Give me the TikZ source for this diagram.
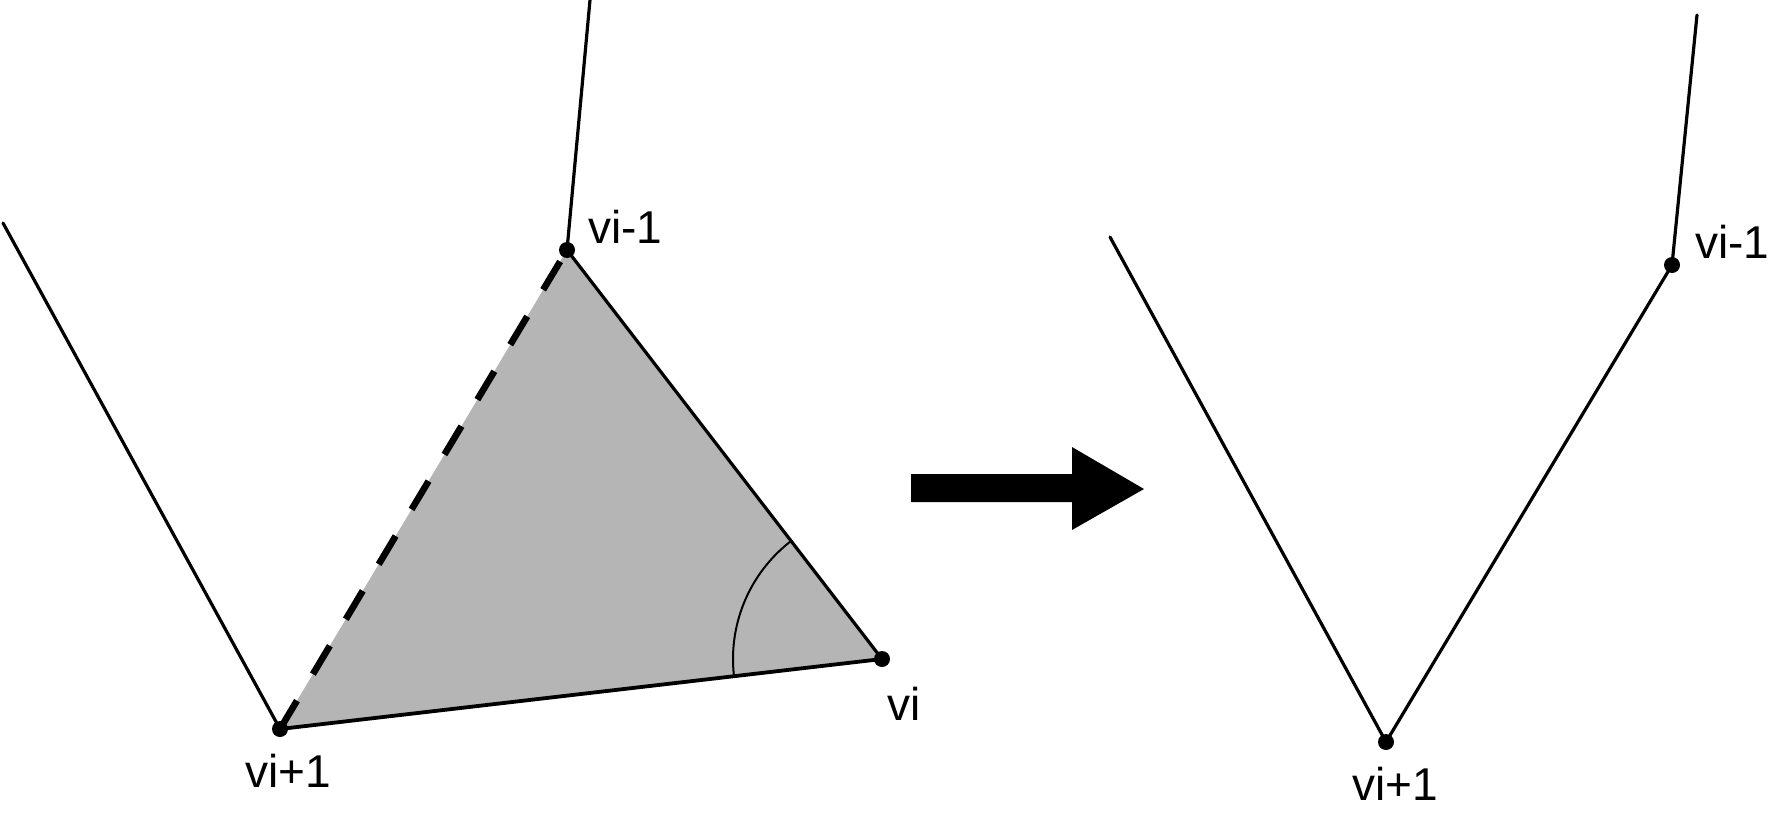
\documentclass[tikz,border=0pt]{standalone}
\usepackage{fontspec}
\setmainfont{Liberation Sans}
\definecolor{fillgray}{RGB}{180,181,180}
\tikzset{
  dot/.style={circle,fill=black,inner sep=0pt,minimum size=8pt},
  edge/.style={line width=1.6pt,line cap=round,line join=round},
  dashedge/.style={line width=3.3pt,dash pattern=on 16.5pt off 15.5pt},
  lbl/.style={anchor=base west,inner sep=0pt,font=\fontsize{23pt}{27pt}\selectfont},
  anglemark/.style={line width=1pt}
}
\begin{document}
\begin{tikzpicture}[x=0.5pt,y=-0.5pt]
\useasboundingbox (0,0) rectangle (1774,819);
% left figure
\coordinate (Ltop) at (3,223);
\coordinate (Lup) at (590,0);
\coordinate (A) at (567,250);
\coordinate (B) at (882,659);
\coordinate (C) at (280,729);
\fill[fillgray] (A) -- (B) -- (C) -- cycle;
\draw[edge] (Ltop) -- (C);
\draw[edge] (Lup) -- (A) -- (B);
\draw[edge,line width=1.9pt] (B) -- (C);
\draw[dashedge] (C) -- (A);
\draw[anglemark] plot[domain=173.4:232.4,samples=60] ({882+149*cos(\x)},{659+149*sin(\x)});
\node[dot] (vA) at (A) {};
\node[dot] (vB) at (B) {};
\node[dot] (vC) at (C) {};
\node[lbl] (tA) at (588,243) {vi-1};
\node[lbl] (tB) at (887,720) {vi};
\node[lbl] (tC) at (245,787) {vi+1};
% arrow
\fill[black] (911,474) -- (1072,474) -- (1072,447) -- (1144,489) -- (1072,530) -- (1072,502) -- (911,502) -- cycle;
% right figure
\coordinate (Rtop) at (1110,237);
\coordinate (Rup) at (1697,15);
\coordinate (D) at (1672,265);
\coordinate (E) at (1386,742);
\draw[edge] (Rtop) -- (E) -- (D) -- (Rup);
\node[dot] (vD) at (D) {};
\node[dot] (vE) at (E) {};
\node[lbl] (tD) at (1695,258) {vi-1};
\node[lbl] (tE) at (1352,800) {vi+1};
\end{tikzpicture}
\end{document}
